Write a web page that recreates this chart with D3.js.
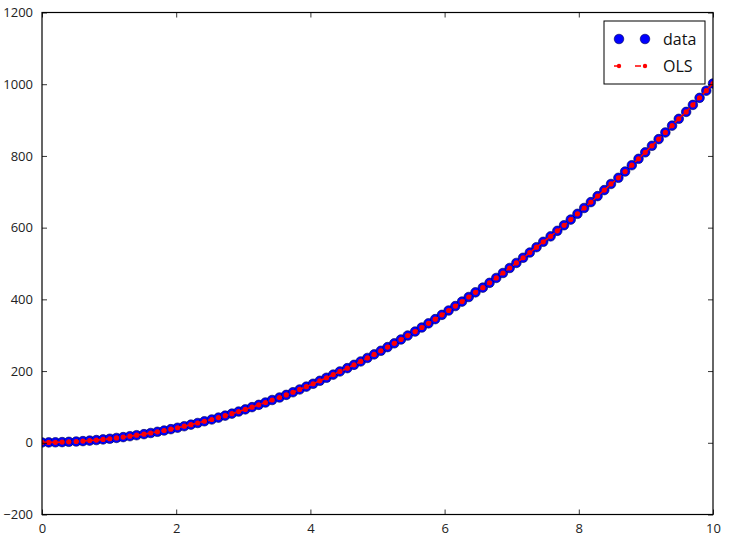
<!DOCTYPE html>
<html>
<head>
<meta charset="utf-8">
<script src="https://cdn.jsdelivr.net/npm/d3@7"></script>
<style>
  body { margin: 0; background: #fff; }
  text { font-family: "Open Sans", "Noto Sans", sans-serif; }
</style>
</head>
<body>
<script>

const width = 730;
const height = 552;
const margin = {top: 12.5, right: 17, bottom: 37.5, left: 42};

// x positions (100 evenly spaced samples from 0 to 10)
const xValues = [
  0, 0.10, 0.20, 0.30, 0.40, 0.51, 0.61, 0.71, 0.81, 0.91,
  1.01, 1.11, 1.21, 1.31, 1.41, 1.52, 1.62, 1.72, 1.82, 1.92,
  2.02, 2.12, 2.22, 2.32, 2.42, 2.53, 2.63, 2.73, 2.83, 2.93,
  3.03, 3.13, 3.23, 3.33, 3.43, 3.54, 3.64, 3.74, 3.84, 3.94,
  4.04, 4.14, 4.24, 4.34, 4.44, 4.55, 4.65, 4.75, 4.85, 4.95,
  5.05, 5.15, 5.25, 5.35, 5.45, 5.56, 5.66, 5.76, 5.86, 5.96,
  6.06, 6.16, 6.26, 6.36, 6.46, 6.57, 6.67, 6.77, 6.87, 6.97,
  7.07, 7.17, 7.27, 7.37, 7.47, 7.58, 7.68, 7.78, 7.88, 7.98,
  8.08, 8.18, 8.28, 8.38, 8.48, 8.59, 8.69, 8.79, 8.89, 8.99,
  9.09, 9.19, 9.29, 9.39, 9.49, 9.60, 9.70, 9.80, 9.90, 10
];

const dataY = [
  1, 1.1, 1.4, 1.9, 2.7, 3.6, 4.7, 6.1, 7.6, 9.4,
  11.3, 13.5, 15.8, 18.4, 21.1, 24.1, 27.3, 30.7, 34.2, 38.0,
  42.0, 46.2, 50.6, 55.2, 60.0, 65.0, 70.2, 75.7, 81.3, 87.1,
  93.1, 99.4, 105.8, 112.4, 119.3, 126.3, 133.6, 141.0, 148.7, 156.6,
  164.6, 172.9, 181.4, 190.1, 199.0, 208.1, 217.4, 226.9, 236.6, 246.5,
  256.6, 266.9, 277.4, 288.1, 299.1, 310.2, 321.5, 333.1, 344.8, 356.8,
  368.9, 381.3, 393.8, 406.6, 419.6, 432.7, 446.1, 459.7, 473.5, 487.5,
  501.6, 516.0, 530.6, 545.5, 560.5, 575.7, 591.1, 606.7, 622.5, 638.6,
  654.8, 671.2, 687.9, 704.7, 721.8, 739.0, 756.5, 774.1, 792.0, 810.1,
  828.3, 846.8, 865.5, 884.4, 903.5, 922.8, 942.3, 962.0, 981.9, 1002.0
];

// OLS fitted values (red dashed line) - indistinguishable from the data at this scale
const olsY = [
  1, 1.1, 1.4, 1.9, 2.7, 3.6, 4.7, 6.1, 7.6, 9.4,
  11.3, 13.5, 15.8, 18.4, 21.1, 24.1, 27.3, 30.7, 34.2, 38.0,
  42.0, 46.2, 50.6, 55.2, 60.0, 65.0, 70.2, 75.7, 81.3, 87.1,
  93.1, 99.4, 105.8, 112.4, 119.3, 126.3, 133.6, 141.0, 148.7, 156.6,
  164.6, 172.9, 181.4, 190.1, 199.0, 208.1, 217.4, 226.9, 236.6, 246.5,
  256.6, 266.9, 277.4, 288.1, 299.1, 310.2, 321.5, 333.1, 344.8, 356.8,
  368.9, 381.3, 393.8, 406.6, 419.6, 432.7, 446.1, 459.7, 473.5, 487.5,
  501.6, 516.0, 530.6, 545.5, 560.5, 575.7, 591.1, 606.7, 622.5, 638.6,
  654.8, 671.2, 687.9, 704.7, 721.8, 739.0, 756.5, 774.1, 792.0, 810.1,
  828.3, 846.8, 865.5, 884.4, 903.5, 922.8, 942.3, 962.0, 981.9, 1002.0
];

const xTicks = [0, 2, 4, 6, 8, 10];
const yTicks = [-200, 0, 200, 400, 600, 800, 1000, 1200];
const legendLabels = ["data", "OLS"];

const svg = d3.select("body").append("svg")
  .attr("width", width)
  .attr("height", height);

const x = d3.scaleLinear().domain([0, 10]).range([margin.left, width - margin.right]);
const y = d3.scaleLinear().domain([-200, 1200]).range([height - margin.bottom, margin.top]);

const fmt = d => d < 0 ? "\u2212" + Math.abs(d) : String(d);

// clip so markers at the edges get cut like matplotlib does
svg.append("clipPath").attr("id", "plotclip")
  .append("rect")
  .attr("x", margin.left).attr("y", margin.top)
  .attr("width", width - margin.left - margin.right)
  .attr("height", height - margin.top - margin.bottom);

const plot = svg.append("g").attr("clip-path", "url(#plotclip)");

const points = xValues.map((v, i) => ({x: v, y: dataY[i], fit: olsY[i]}));

// blue data markers
plot.selectAll("circle.data")
  .data(points)
  .join("circle")
  .attr("class", "data")
  .attr("cx", d => x(d.x))
  .attr("cy", d => y(d.y))
  .attr("r", 4.8)
  .attr("fill", "#0000ff")
  .attr("stroke", "#000050")
  .attr("stroke-width", 0.6);

// OLS dashed red line with small dot markers
const line = d3.line().x(d => x(d.x)).y(d => y(d.fit));
plot.append("path")
  .datum(points)
  .attr("d", line)
  .attr("fill", "none")
  .attr("stroke", "#ff0000")
  .attr("stroke-width", 1.6)
  .attr("stroke-dasharray", "5,3");

plot.selectAll("circle.fit")
  .data(points)
  .join("circle")
  .attr("class", "fit")
  .attr("cx", d => x(d.x))
  .attr("cy", d => y(d.fit))
  .attr("r", 2.6)
  .attr("fill", "#ff0000");

// axes: ticks pointing inward on all four sides
const axisStyle = g => {
  g.select(".domain").remove();
  g.selectAll(".tick line").attr("stroke", "#000").attr("stroke-width", 0.8);
  g.selectAll(".tick text").attr("fill", "#222").style("font-size", "13px")
    .style("font-family", "'Open Sans', 'Noto Sans', sans-serif");
};

svg.append("g")
  .attr("transform", `translate(0,${height - margin.bottom})`)
  .call(d3.axisBottom(x).tickValues(xTicks).tickFormat(fmt).tickSizeInner(-5).tickPadding(9))
  .call(axisStyle);

svg.append("g")
  .attr("transform", `translate(0,${margin.top})`)
  .call(d3.axisTop(x).tickValues(xTicks).tickFormat("").tickSizeInner(-5))
  .call(axisStyle);

svg.append("g")
  .attr("transform", `translate(${margin.left},0)`)
  .call(d3.axisLeft(y).tickValues(yTicks).tickFormat(fmt).tickSizeInner(-5).tickPadding(9))
  .call(axisStyle);

svg.append("g")
  .attr("transform", `translate(${width - margin.right},0)`)
  .call(d3.axisRight(y).tickValues(yTicks).tickFormat("").tickSizeInner(-5))
  .call(axisStyle);

// frame
svg.append("rect")
  .attr("x", margin.left).attr("y", margin.top)
  .attr("width", width - margin.left - margin.right)
  .attr("height", height - margin.top - margin.bottom)
  .attr("fill", "none")
  .attr("stroke", "#000")
  .attr("stroke-width", 1.2);

// legend
const lg = svg.append("g").attr("transform", "translate(604,21)");
lg.append("rect")
  .attr("width", 101).attr("height", 63)
  .attr("fill", "#fff").attr("stroke", "#000").attr("stroke-width", 1);

const rowY = [18, 45];
[15, 41].forEach(cx => {
  lg.append("circle").attr("cx", cx).attr("cy", rowY[0]).attr("r", 4.8)
    .attr("fill", "#0000ff").attr("stroke", "#000050").attr("stroke-width", 0.6);
});
lg.append("line").attr("x1", 10).attr("x2", 41).attr("y1", rowY[1]).attr("y2", rowY[1])
  .attr("stroke", "#ff0000").attr("stroke-width", 1.5).attr("stroke-dasharray", "6,15");
[15, 41].forEach(cx => {
  lg.append("circle").attr("cx", cx).attr("cy", rowY[1]).attr("r", 2.2).attr("fill", "#ff0000");
});
lg.selectAll("text.lab")
  .data(legendLabels)
  .join("text")
  .attr("class", "lab")
  .attr("x", 59)
  .attr("y", (d, i) => rowY[i] + 5.5)
  .attr("fill", "#111")
  .style("font-size", "16px")
  .text(d => d);

</script>
</body>
</html>
